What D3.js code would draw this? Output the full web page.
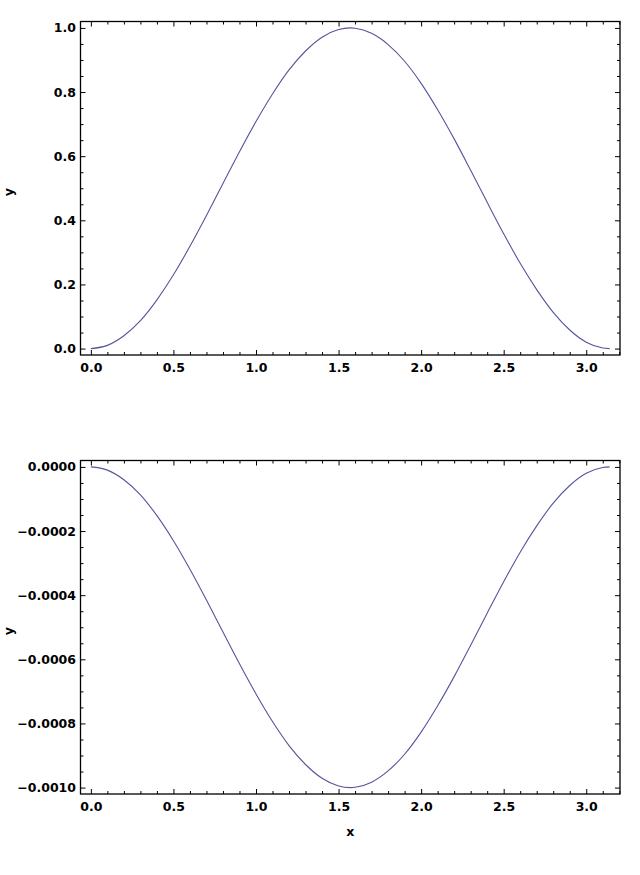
<!DOCTYPE html>
<html>
<head>
<meta charset="utf-8">
<script src="https://cdn.jsdelivr.net/npm/d3@7"></script>
<style>
  body { margin: 0; background: #fff; }
  svg text { font-family: "DejaVu Sans", sans-serif; font-weight: bold; font-size: 12.5px; fill: #000; }
</style>
</head>
<body>
<svg id="chart"></svg>
<script>
// Sample points (x from 0 to pi)
const xs = [0, 0.1, 0.2, 0.3, 0.4, 0.5, 0.6, 0.7, 0.8, 0.9, 1.0, 1.1, 1.2, 1.3, 1.4, 1.5, 1.571,
            1.6, 1.7, 1.8, 1.9, 2.0, 2.1, 2.2, 2.3, 2.4, 2.5, 2.6, 2.7, 2.8, 2.9, 3.0, 3.1, 3.1416];
// top panel
const yTopVals = [0, 0.010, 0.040, 0.087, 0.152, 0.230, 0.319, 0.415, 0.515, 0.614, 0.708, 0.794, 0.869,
                  0.928, 0.971, 0.995, 1.0, 0.999, 0.983, 0.948, 0.896, 0.827, 0.745, 0.654, 0.556, 0.456,
                  0.358, 0.266, 0.184, 0.113, 0.058, 0.020, 0.002, 0];
// bottom panel
const yBotVals = [0, -0.000010, -0.000040, -0.000087, -0.000152, -0.000230, -0.000319, -0.000415,
                  -0.000515, -0.000614, -0.000708, -0.000794, -0.000869, -0.000928, -0.000971, -0.000995,
                  -0.001, -0.000999, -0.000983, -0.000948, -0.000896, -0.000827, -0.000745, -0.000654,
                  -0.000556, -0.000456, -0.000358, -0.000266, -0.000184, -0.000113, -0.000058, -0.000020,
                  -0.000002, 0];

// tick values
const xMajor = [0, 0.5, 1.0, 1.5, 2.0, 2.5, 3.0];
const xMinor = [0.1, 0.2, 0.3, 0.4, 0.6, 0.7, 0.8, 0.9, 1.1, 1.2, 1.3, 1.4, 1.6, 1.7, 1.8, 1.9,
                2.1, 2.2, 2.3, 2.4, 2.6, 2.7, 2.8, 2.9, 3.1, 3.2];
const yTopMajor = [0, 0.2, 0.4, 0.6, 0.8, 1.0];
const yTopMinor = [0.05, 0.1, 0.15, 0.25, 0.3, 0.35, 0.45, 0.5, 0.55, 0.65, 0.7, 0.75, 0.85, 0.9, 0.95];
const yBotMajor = [-0.001, -0.0008, -0.0006, -0.0004, -0.0002, 0];
const yBotMinor = [-0.00095, -0.0009, -0.00085, -0.00075, -0.0007, -0.00065, -0.00055, -0.0005,
                   -0.00045, -0.00035, -0.0003, -0.00025, -0.00015, -0.0001, -0.00005];

const width = 640, height = 875;
const left = 80.5, right = 620;

const svg = d3.select("#chart").attr("width", width).attr("height", height);

const x = d3.scaleLinear().domain([-0.0628, 3.2044]).range([left, right]);

const panels = [
  { vals: yTopVals, domain: [-0.02, 1.02], top: 21.5, bottom: 355,
    major: yTopMajor, minor: yTopMinor, fmt: d3.format(".1f") },
  { vals: yBotVals, domain: [-0.00102, 0.00002], top: 460.5, bottom: 794,
    major: yBotMajor, minor: yBotMinor, fmt: d3.format(".4f") }
];

panels.forEach((p, i) => {
  const y = d3.scaleLinear().domain(p.domain).range([p.bottom, p.top]);
  const g = svg.append("g");

  // curve
  const line = d3.line()
    .x(d => x(d[0]))
    .y(d => y(d[1]))
    .curve(d3.curveMonotoneX);
  g.append("path")
    .datum(xs.map((v, j) => [v, p.vals[j]]))
    .attr("d", line)
    .attr("fill", "none")
    .attr("stroke", "#55559c")
    .attr("stroke-width", 1.1);

  // axes: ticks point inside the frame
  const addAxis = (axis, tx, ty) => {
    const a = g.append("g").attr("transform", `translate(${tx},${ty})`).call(axis);
    a.select(".domain").remove();
    a.selectAll("line").attr("stroke", "#000");
    a.selectAll("text").attr("font-size", null).attr("font-family", null);
    return a;
  };

  addAxis(d3.axisBottom(x).tickValues(xMajor).tickSize(-5).tickPadding(8).tickFormat(d3.format(".1f")), 0, p.bottom);
  addAxis(d3.axisBottom(x).tickValues(xMinor).tickSize(-3).tickFormat(""), 0, p.bottom);
  addAxis(d3.axisTop(x).tickValues(xMajor).tickSize(-5).tickFormat(""), 0, p.top);
  addAxis(d3.axisTop(x).tickValues(xMinor).tickSize(-3).tickFormat(""), 0, p.top);

  addAxis(d3.axisLeft(y).tickValues(p.major).tickSize(-5).tickPadding(4.5).tickFormat(p.fmt), left, 0);
  addAxis(d3.axisLeft(y).tickValues(p.minor).tickSize(-3).tickFormat(""), left, 0);
  addAxis(d3.axisRight(y).tickValues(p.major).tickSize(-5).tickFormat(""), right, 0);
  addAxis(d3.axisRight(y).tickValues(p.minor).tickSize(-3).tickFormat(""), right, 0);

  // frame
  g.append("rect")
    .attr("x", left).attr("y", p.top)
    .attr("width", right - left).attr("height", p.bottom - p.top)
    .attr("fill", "none").attr("stroke", "#000").attr("stroke-width", 1.3);

  // y label
  const cy = (p.top + p.bottom) / 2 + 4;
  g.append("text")
    .attr("transform", `translate(13,${cy}) rotate(-90)`)
    .attr("text-anchor", "middle")
    .text("y");

  if (i === 1) {
    g.append("text")
      .attr("x", (left + right) / 2)
      .attr("y", p.bottom + 42)
      .attr("text-anchor", "middle")
      .text("x");
  }
});
</script>
</body>
</html>
